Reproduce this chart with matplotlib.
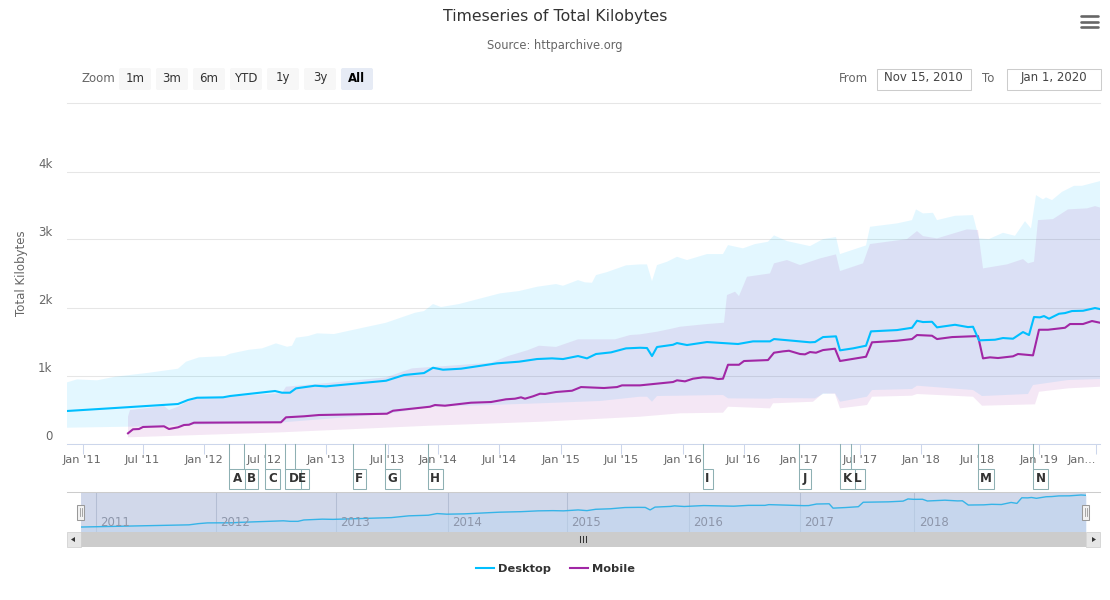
import matplotlib
matplotlib.use('Agg')
import matplotlib.pyplot as plt
from matplotlib.patches import Rectangle, FancyBboxPatch

plt.rcParams['font.family'] = ['DejaVu Sans']

# x values are positions on the ordinal time axis (snapshots are evenly spaced, not dates)
desktop_x = [0,48,111,121,130,156,163,208,215,223,229,248,259,319,337,357,366,376,394,430,452,470,485,496,511,520,529,544,559,573,580,585,590,606,610,620,640,671,686,703,707,726,743,748,756,769,773,786,799,804,830,845,850,856,865,870,888,901,906,912,928,936,946,956,962,967,973,977,982,992,998,1005,1016,1028,1033]
desktop_kb = [478,522,581,640,673,679,698,772,747,747,811,850,840,923,1007,1036,1114,1085,1100,1179,1203,1242,1252,1242,1286,1252,1316,1340,1399,1408,1404,1286,1419,1452,1477,1448,1492,1463,1502,1502,1536,1511,1488,1492,1565,1576,1370,1399,1438,1649,1668,1702,1805,1786,1790,1708,1746,1712,1717,1517,1526,1551,1541,1639,1595,1860,1855,1874,1835,1908,1918,1948,1952,1992,1977]

mobile_x = [61,66,72,76,97,102,111,117,122,127,214,219,237,252,289,320,326,363,368,378,404,424,439,448,454,458,466,473,478,489,505,514,537,550,555,573,606,610,618,626,636,645,651,656,661,672,677,701,707,716,722,733,738,743,749,756,768,773,799,805,830,845,850,865,870,885,911,916,923,931,946,951,966,972,981,998,1003,1016,1025,1033]
mobile_kb = [150,209,213,243,253,213,238,272,276,306,312,385,400,419,429,438,482,541,566,556,600,610,650,659,679,659,694,732,728,757,776,830,816,830,855,855,904,929,914,953,973,967,948,953,1158,1158,1213,1227,1335,1355,1364,1316,1311,1345,1335,1374,1394,1213,1276,1488,1511,1536,1595,1585,1536,1565,1580,1252,1267,1257,1282,1316,1296,1673,1673,1702,1757,1757,1801,1776]

desktop_high_x = [0,10,30,48,82,111,119,132,158,163,182,195,209,220,225,229,241,250,267,285,319,348,357,366,374,392,433,452,470,489,496,511,518,525,529,540,559,573,580,585,590,600,610,620,640,656,661,676,688,701,707,720,743,756,769,773,799,803,830,845,849,856,866,870,888,906,912,922,927,936,948,958,964,969,976,979,985,995,1007,1015,1033]
desktop_high = [899,943,929,982,1041,1100,1203,1267,1286,1320,1379,1399,1473,1423,1438,1556,1580,1620,1610,1668,1776,1923,1948,2051,2007,2051,2208,2242,2305,2345,2320,2403,2370,2364,2477,2521,2620,2634,2634,2389,2624,2673,2746,2698,2786,2786,2918,2870,2933,2967,3061,2977,2903,3006,3036,2786,2913,3187,3237,3285,3443,3384,3393,3285,3349,3359,3016,3006,3040,3099,3055,3270,3163,3653,3590,3619,3580,3701,3790,3790,3859]
desktop_low_x = [0,61,214,320,363,473,533,573,580,585,590,656,661,703,707,748,756,768,773,800,805,845,850,906,915,961,966,1001,1033]
desktop_low = [232,247,309,434,537,591,625,688,688,614,698,713,664,659,668,664,728,738,614,688,786,801,850,786,698,728,860,933,948]

mobile_high_x = [61,63,97,102,111,118,130,215,219,274,319,345,378,424,441,461,472,489,511,548,563,573,590,606,613,640,657,660,668,672,680,703,707,720,733,753,769,773,796,803,840,850,856,870,900,911,916,940,956,961,967,971,986,1001,1020,1028,1033]
mobile_high = [394,492,551,492,541,600,664,741,835,908,973,1105,1139,1188,1286,1374,1438,1420,1532,1532,1595,1605,1644,1693,1717,1757,1776,2183,2232,2168,2452,2501,2649,2698,2624,2722,2781,2536,2649,2933,3006,3124,3050,3016,3149,3139,2575,2634,2712,2649,2673,3285,3300,3443,3458,3491,3470]
mobile_low_x = [61,215,363,474,573,613,656,661,703,706,746,756,768,773,800,805,845,850,906,915,968,972,1001,1033]
mobile_low = [91,165,262,320,394,444,453,541,517,591,614,738,730,517,566,688,703,728,688,556,576,761,811,835]

tick_pos = [15.5,75.5,136.6,197.6,259.4,320.5,370.5,432.3,494,554.4,615.5,676.5,732,793.4,854.4,910.5,971.6,1029]
tick_labels = ["Jan '11","Jul '11","Jan '12","Jul '12","Jan '13","Jul '13","Jan '14","Jul '14","Jan '15","Jul '15","Jan '16","Jul '16","Jan '17","Jul '17","Jan '18","Jul '18","Jan '19","Jan..."]

flag_pos = [162.3,177.3,198.4,218.4,228.4,285.5,317.6,360.5,635.5,732.3,773.4,783.5,910.5,966.3]
flag_labels = list('ABCDEFGHIJKLMN')
flag_widths = [16,14,15,16,14,13,15,15,10,12,15,14,16,15]

nav_year_pos = [15.8,139.2,262.5,376.8,499.9,624.8,739.5,856.7]
nav_years = ['2011','2012','2013','2014','2015','2016','2017','2018']

zoom_labels = ['1m','3m','6m','YTD','1y','3y','All']

BLUE = '#00bfff'
PURPLE = '#a127a5'
W, H = 1110, 600


def box(x0, y0, x1, y1):
    return [x0/W, 1-y1/H, (x1-x0)/W, (y1-y0)/H]


fig = plt.figure(figsize=(W/100, H/100), dpi=100)

# main chart
ax = fig.add_axes(box(67, 103.5, 1100, 443.5))
ax.fill(desktop_high_x+desktop_low_x[::-1], desktop_high+desktop_low[::-1], color=BLUE, alpha=0.11, lw=0, zorder=2)
ax.fill(mobile_high_x+mobile_low_x[::-1], mobile_high+mobile_low[::-1], color=PURPLE, alpha=0.11, lw=0, zorder=2)
ax.plot(desktop_x, desktop_kb, color=BLUE, lw=1.5, label='Desktop', zorder=4, solid_joinstyle='round')
ax.plot(mobile_x, mobile_kb, color=PURPLE, lw=1.5, label='Mobile', zorder=3, solid_joinstyle='round')
ax.set_xlim(0, 1033)
ax.set_ylim(0, 5000)
ax.set_yticks([0, 1000, 2000, 3000, 4000])
ax.set_yticklabels(['0', '1k', '2k', '3k', '4k'], color='#666666', fontsize=8.5, va='bottom')
ax.tick_params(axis='y', length=0, pad=10.5)
ax.grid(axis='y', color='#e6e6e6', lw=0.75, zorder=1)
ax.set_axisbelow(True)
ax.set_xticks(tick_pos)
ax.set_xticklabels(tick_labels, color='#666666', fontsize=8.2)
ax.tick_params(axis='x', length=7, width=0.75, color='#ccd6eb', pad=1)
ax.get_xticklabels()[-1].set_ha('right')
for s in ['top', 'left', 'right']:
    ax.spines[s].set_visible(False)
ax.spines['bottom'].set_color('#ccd6eb')
ax.spines['bottom'].set_linewidth(0.75)
ax.set_ylabel('Total Kilobytes', color='#666666', fontsize=8.5)
ax.yaxis.set_label_coords((28-67)/1033, 0.5)
fig.legend(*ax.get_legend_handles_labels(), loc='center', bbox_to_anchor=(555.5/W, 1-569/H), ncol=2,
           frameon=False, handlelength=1.6, handletextpad=0.35, columnspacing=1.6,
           prop={'weight': 'bold', 'size': 8.2}, labelcolor='#333333')

# navigator
nav = fig.add_axes(box(81, 492, 1086, 532))
nav.set_facecolor('#d1d8ea')
nav.fill_between(desktop_x, desktop_kb, 243, color='#bcd6f0', alpha=0.5, lw=0)
nav.plot(desktop_x, desktop_kb, color='#35b4e8', lw=1)
nav.set_xlim(0, 1033)
nav.set_ylim(243, 2133)
nav.set_yticks([])
nav.set_xticks(nav_year_pos)
nav.set_xticklabels([])
nav.tick_params(axis='x', length=0)
nav.grid(axis='x', color='#b4bed4', lw=0.75)
nav.set_axisbelow(True)
for s in nav.spines.values():
    s.set_visible(False)
for p, y in zip(nav_year_pos, nav_years):
    nav.annotate(y, (p, 0), xycoords=('data', 'axes fraction'), xytext=(3, 2), textcoords='offset points',
                 color='#8d96aa', fontsize=8.5, va='bottom', ha='left')

# page furniture drawn in pixel coordinates
ui = fig.add_axes([0, 0, 1, 1], facecolor='none')
ui.set_xlim(0, W)
ui.set_ylim(H, 0)
ui.axis('off')

ui.text(555, 16, 'Timeseries of Total Kilobytes', ha='center', va='center', fontsize=11.3, color='#333333')
ui.text(555, 46, 'Source: httparchive.org', ha='center', va='center', fontsize=8.3, color='#666666')

ui.plot([67, 1100], [102.5, 102.5], color='#e6e6e6', lw=0.75)

for y in (16, 21.5, 27):
    ui.plot([1081, 1098], [y, y], color='#666666', lw=1.9, solid_capstyle='round')

ui.text(81, 79, 'Zoom', va='center', fontsize=8.5, color='#666666')
for i, lab in enumerate(zoom_labels):
    x0 = 119 + 37*i
    sel = lab == 'All'
    ui.add_patch(FancyBboxPatch((x0+1, 69), 30, 20, boxstyle='round,pad=1,rounding_size=2', lw=0,
                                fc='#e6ebf5' if sel else '#f7f7f7'))
    ui.text(x0+16, 78, lab, ha='center', va='center', fontsize=8.5, color='#000000' if sel else '#333333',
            fontweight='bold' if sel else 'normal')

ui.text(839, 78, 'From', va='center', fontsize=8.5, color='#666666')
ui.text(982, 78, 'To', va='center', fontsize=8.5, color='#666666')
ui.add_patch(Rectangle((876.5, 68.5), 94, 21, fc='white', ec='#cccccc', lw=0.75))
ui.add_patch(Rectangle((1006.5, 68.5), 94, 21, fc='white', ec='#cccccc', lw=0.75))
ui.text(923.5, 78, 'Nov 15, 2010', ha='center', va='center', fontsize=8.5, color='#444444')
ui.text(1053.5, 78, 'Jan 1, 2020', ha='center', va='center', fontsize=8.5, color='#444444')

# flags, earlier ones sit on top of later ones
for p, lab, w in reversed(list(zip(flag_pos, flag_labels, flag_widths))):
    x = p + 67
    ui.plot([x, x], [443.5, 468.5], color='#8eb0b3', lw=0.75)
    ui.add_patch(Rectangle((x, 468.5), w, 20, fc='white', ec='#8eb0b3', lw=0.75))
    ui.text(x + w/2, 478.5, lab, ha='center', va='center', fontsize=8.6, fontweight='bold', color='#333333')

# navigator frame and scrollbar
ui.plot([67, 1100], [492, 492], color='#cccccc', lw=0.75)
ui.add_patch(Rectangle((81, 532), 1005, 15, fc='#cccccc', lw=0))
ui.add_patch(Rectangle((67, 532), 14, 15, fc='#e6e6e6', ec='#cccccc', lw=0.5))
ui.add_patch(Rectangle((1086, 532), 14, 15, fc='#e6e6e6', ec='#cccccc', lw=0.5))
ui.fill([75, 71, 75], [537, 539.5, 542], color='#333333', lw=0)
ui.fill([1092, 1096, 1092], [537, 539.5, 542], color='#333333', lw=0)
for x in (580, 583, 586):
    ui.plot([x, x], [536, 542], color='#333333', lw=0.75)
for x in (80.5, 1085.5):
    ui.add_patch(Rectangle((x-3.5, 504.5), 7, 15, fc='#f2f2f2', ec='#999999', lw=0.75))
    for dx in (-1, 1):
        ui.plot([x+dx, x+dx], [508, 516], color='#999999', lw=0.6)

fig.savefig('out.png', dpi=100)
